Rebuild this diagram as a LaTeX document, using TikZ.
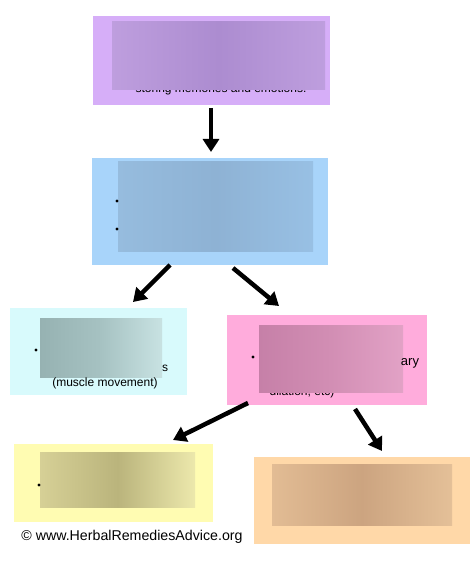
\documentclass[tikz,border=0pt]{standalone}
\usepackage{fontspec}
\setmainfont{Liberation Sans}
\usetikzlibrary{arrows.meta}
\definecolor{cPurple}{RGB}{214,174,248}
\definecolor{cBlue}{RGB}{168,212,250}
\definecolor{cCyan}{RGB}{216,250,252}
\definecolor{cPink}{RGB}{255,172,220}
\definecolor{cYellow}{RGB}{255,252,178}
\definecolor{cPeach}{RGB}{255,216,168}
\tikzset{
  box/.style={inner sep=0pt, outer sep=0pt, anchor=center},
  frag/.style={inner sep=0pt, anchor=base, font=\fontsize{12}{14}\selectfont},
  bul/.style={circle, fill=black, inner sep=0pt, minimum size=3.4pt},
  flow/.style={line width=4.5pt, -{Triangle[length=13pt,width=16pt]}, black},
}
\begin{document}
\begin{tikzpicture}[x=1pt,y=-1pt]
\useasboundingbox (0,0) rectangle (474,561);
% boxes
\node[box, fill=cPurple, minimum width=237pt, minimum height=89pt] (brain) at (211.5,60.5) {};
\node[box, fill=cBlue, minimum width=236pt, minimum height=107pt] (cns) at (210,211.5) {};
\node[box, fill=cCyan, minimum width=177pt, minimum height=87pt] (som) at (98.5,351.5) {};
\node[box, fill=cPink, minimum width=200pt, minimum height=90pt] (aut) at (327,360) {};
\node[box, fill=cYellow, minimum width=199pt, minimum height=78pt] (sym) at (113.5,483) {};
\node[box, fill=cPeach, minimum width=216pt, minimum height=87pt] (para) at (362,500.5) {};
% text fragments (partly covered)
\node[frag] (t1) at (221,93) {storing memories and emotions.};
\node[frag] (t2) at (302,395) {dilation, etc)};
% blurred patches
\shade[left color={rgb,255:red,190;green,158;blue,222}, right color={rgb,255:red,190;green,158;blue,222}, middle color={rgb,255:red,172;green,140;blue,208}] (112,22) rectangle (325,90);
\shade[left color={rgb,255:red,150;green,188;blue,222}, right color={rgb,255:red,152;green,192;blue,228}, middle color={rgb,255:red,142;green,178;blue,212}] (118,162) rectangle (313,251);
\shade[left color={rgb,255:red,150;green,178;blue,178}, right color={rgb,255:red,200;green,226;blue,226}, middle color={rgb,255:red,166;green,194;blue,194}] (40,318) rectangle (162,377);
\shade[left color={rgb,255:red,198;green,128;blue,168}, right color={rgb,255:red,226;green,162;blue,198}, middle color={rgb,255:red,210;green,142;blue,180}] (259,325) rectangle (403,392);
\shade[left color={rgb,255:red,214;green,208;blue,150}, right color={rgb,255:red,236;green,232;blue,172}, middle color={rgb,255:red,186;green,180;blue,124}] (40,452) rectangle (195,507);
\shade[left color={rgb,255:red,226;green,188;blue,148}, right color={rgb,255:red,228;green,192;blue,152}, middle color={rgb,255:red,204;green,164;blue,128}] (272,464) rectangle (452,525);
% visible fragments
\node[frag] (t3) at (165,371) {s};
\node[frag] (t4) at (105,386) {(muscle movement)};
\node[frag, font=\fontsize{13}{15}\selectfont] (t5) at (410,365) {ary};
% bullets
\node[bul] (b1) at (117,201) {};
\node[bul] (b2) at (117,229) {};
\node[bul] (b3) at (36,350) {};
\node[bul] (b4) at (253,357) {};
\node[bul] (b5) at (39,485) {};
% copyright
\node[inner sep=0pt, anchor=center, font=\fontsize{14.2}{16}\selectfont] (copy) at (132,537) {© www.HerbalRemediesAdvice.org};
% arrows
\coordinate (a1s) at (211,108); \coordinate (a1e) at (211,152);
\coordinate (a2s) at (170,265); \coordinate (a2e) at (133,302);
\coordinate (a3s) at (233,268); \coordinate (a3e) at (279,306);
\coordinate (a4s) at (248,403); \coordinate (a4e) at (173,440);
\coordinate (a5s) at (355,409); \coordinate (a5e) at (382,451);
\draw[flow] (a1s) -- (a1e);
\draw[flow] (a2s) -- (a2e);
\draw[flow] (a3s) -- (a3e);
\draw[flow] (a4s) -- (a4e);
\draw[flow] (a5s) -- (a5e);
\end{tikzpicture}
\end{document}
